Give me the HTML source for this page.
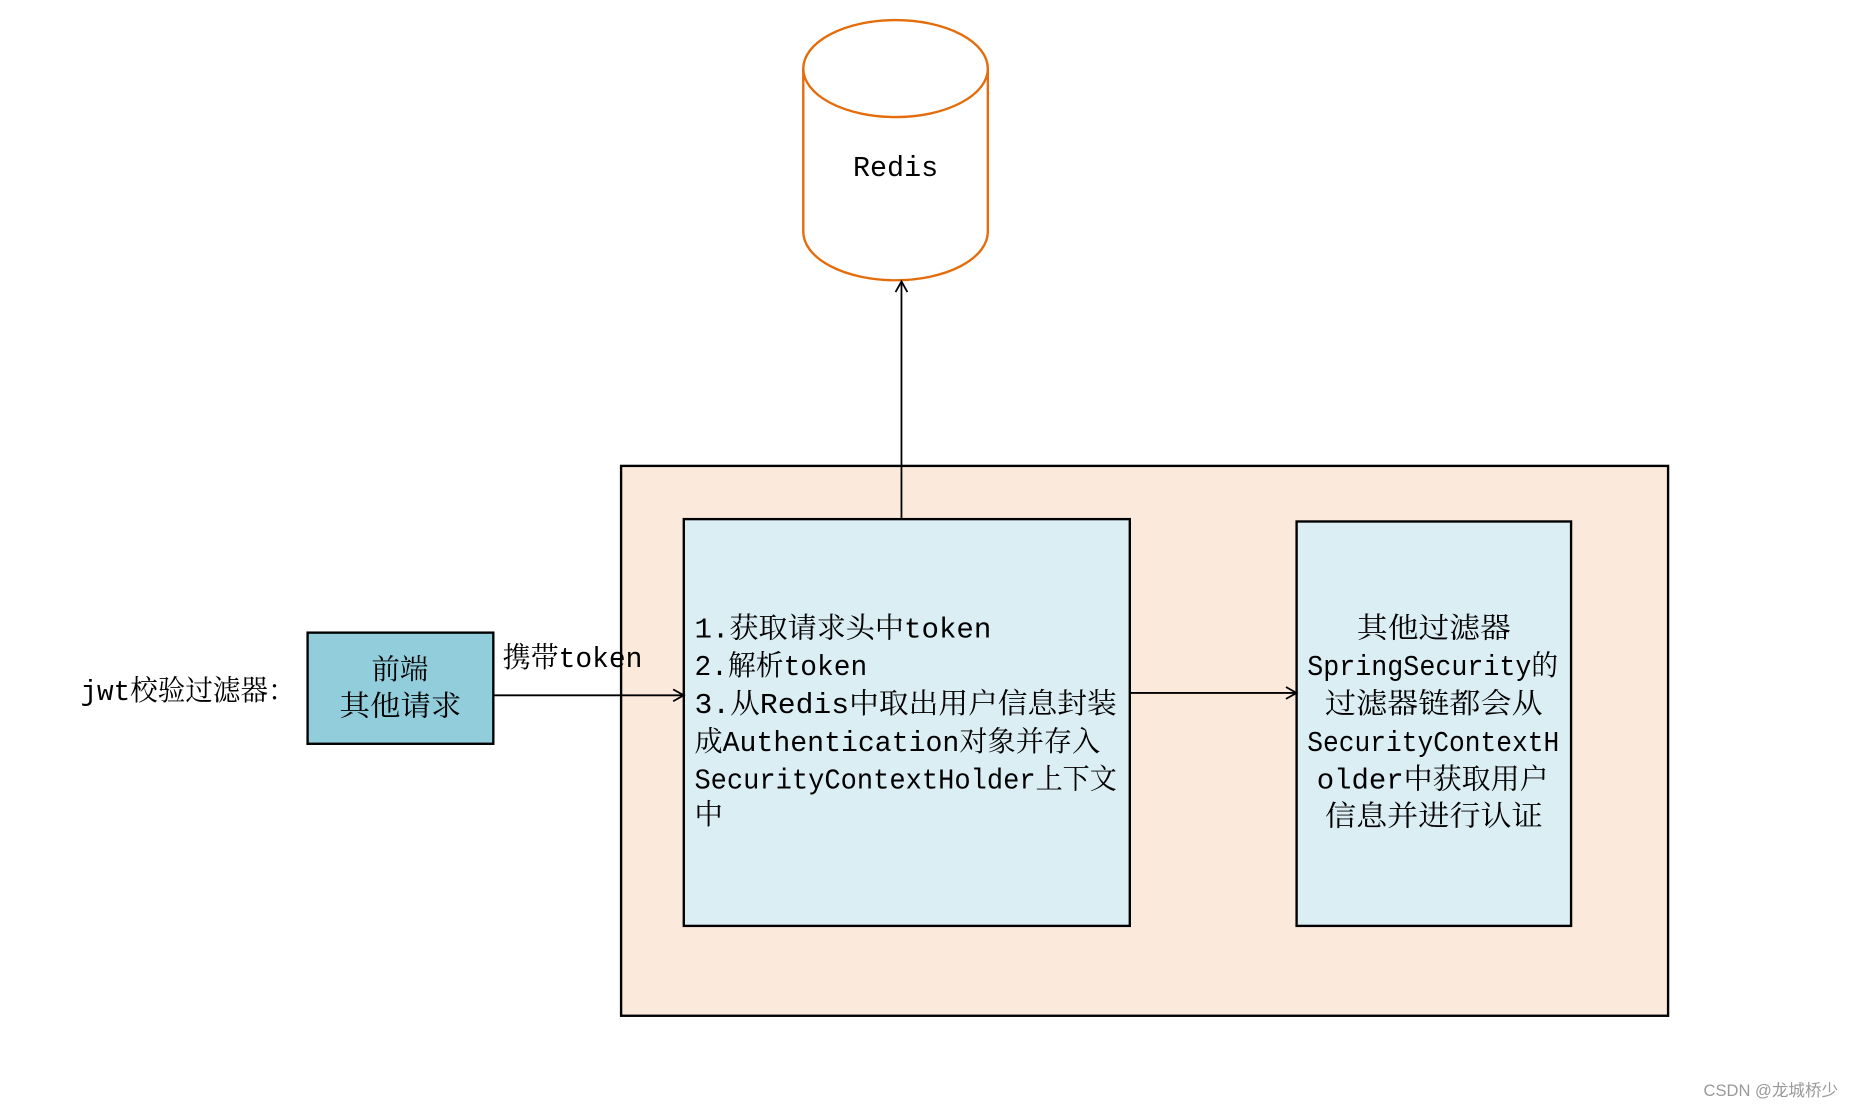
<!DOCTYPE html>
<html><head><meta charset="utf-8"><style>
html,body{margin:0;padding:0;background:#fff;}
svg{display:block;}
text{font-family:"Liberation Mono","Noto Serif CJK SC",serif;font-size:24px;fill:#000;}
</style></head><body>
<svg width="1855" height="1108" viewBox="0 0 1568 937" preserveAspectRatio="none" xmlns="http://www.w3.org/2000/svg">
<defs><marker id="a" markerWidth="12" markerHeight="12" refX="10" refY="6" orient="auto" markerUnits="userSpaceOnUse"><path d="M1,1 L10,6 L1,11" fill="none" stroke="#000" stroke-width="1.5"/></marker></defs>
<rect width="1568" height="937" fill="#fff"/>
<!-- cylinder -->
<path d="M679,58 L679,196 A78,41 0 0 0 835,196 L835,58" fill="#fff" stroke="#E46C0A" stroke-width="2"/>
<ellipse cx="757" cy="58" rx="78" ry="41" fill="#fff" stroke="#E46C0A" stroke-width="2"/>
<text x="757" y="149" text-anchor="middle">Redis</text>
<!-- big rect -->
<rect x="525" y="394" width="885" height="465" fill="#FBE9DC" stroke="#000" stroke-width="2"/>
<rect x="578" y="439" width="377" height="344" fill="#DBEEF3" stroke="#000" stroke-width="2"/>
<rect x="1096" y="441" width="232" height="342" fill="#DBEEF3" stroke="#000" stroke-width="2"/>
<rect x="260" y="535" width="157" height="94" fill="#92CDDC" stroke="#000" stroke-width="2"/>
<line x1="762" y1="438" x2="762" y2="238" stroke="#000" stroke-width="1.5" marker-end="url(#a)"/>
<line x1="417" y1="588" x2="578" y2="588" stroke="#000" stroke-width="1.5" marker-end="url(#a)"/>
<line x1="955" y1="586" x2="1096" y2="586" stroke="#000" stroke-width="1.5" marker-end="url(#a)"/>
<text x="425" y="564" textLength="118" lengthAdjust="spacingAndGlyphs">携带token</text>
<text x="68" y="592" textLength="182" lengthAdjust="spacingAndGlyphs">jwt校验过滤器：</text>
<text x="338" y="574" text-anchor="middle">前端</text>
<text x="287" y="605" textLength="103" lengthAdjust="spacingAndGlyphs">其他请求</text>
<g>
<text x="587" y="539" textLength="251" lengthAdjust="spacingAndGlyphs">1.获取请求头中token</text>
<text x="587" y="571" textLength="146" lengthAdjust="spacingAndGlyphs">2.解析token</text>
<text x="587" y="603" textLength="357" lengthAdjust="spacingAndGlyphs">3.从Redis中取出用户信息封装</text>
<text x="587" y="635" textLength="343" lengthAdjust="spacingAndGlyphs">成Authentication对象并存入</text>
<text x="587" y="667" textLength="357" lengthAdjust="spacingAndGlyphs">SecurityContextHolder上下文</text>
<text x="587" y="697">中</text>
</g>
<g>
<text x="1147" y="539" textLength="130" lengthAdjust="spacingAndGlyphs">其他过滤器</text>
<text x="1105" y="571" textLength="212" lengthAdjust="spacingAndGlyphs">SpringSecurity的</text>
<text x="1120" y="603" textLength="184" lengthAdjust="spacingAndGlyphs">过滤器链都会从</text>
<text x="1105" y="635" textLength="213" lengthAdjust="spacingAndGlyphs">SecurityContextH</text>
<text x="1113" y="667" textLength="196" lengthAdjust="spacingAndGlyphs">older中获取用户</text>
<text x="1120" y="698" textLength="184" lengthAdjust="spacingAndGlyphs">信息并进行认证</text>
</g>
<text x="1440" y="927" style="font-family:'Liberation Sans','Noto Sans CJK SC',sans-serif;font-size:14px;fill:#999">CSDN @龙城桥少</text>
</svg>
</body></html>
